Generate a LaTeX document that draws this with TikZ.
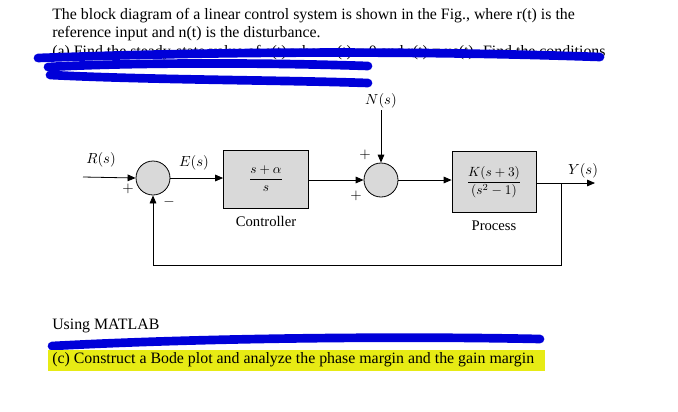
\documentclass[tikz,border=0pt]{standalone}
\usepackage{fontspec}
\setmainfont{Liberation Serif}
\usetikzlibrary{arrows.meta}
\begin{document}
\begin{tikzpicture}[x=0.75pt,y=-0.75pt,
  sig/.style={-{Triangle[length=6pt,width=5pt]},line width=0.6pt},
  sumc/.style={circle,draw,line width=0.6pt,fill=gray!30,minimum size=25.5pt,inner sep=0},
  blk/.style={draw,line width=0.6pt,fill=gray!30,inner sep=0},
  lbl/.style={font=\fontsize{10.5}{12}\selectfont},
  scrib/.style={draw=blue!85!black,line width=6.5pt,line cap=round},
  txt/.style={anchor=west,font=\fontsize{11.9}{14}\selectfont,inner sep=0}]
\useasboundingbox (0,0) rectangle (678,411);
\node[txt] (t1) at (52,16) {The block diagram of a linear control system is shown in the Fig., where r(t) is the};
\node[txt] (t2) at (52,34) {reference input and n(t) is the disturbance.};
\node[txt] (t3) at (52,53) {(a) Find the steady-state value of e(t) when n(t) = 0 and r(t) = us(t). Find the conditions};
\draw[scrib] (38,58) .. controls (200,52) and (400,50) .. (600,57);
\draw[scrib] (48,67) .. controls (120,63) and (250,62) .. (368,66);
\draw[scrib] (50,75) .. controls (150,80) and (280,80) .. (368,83);
% diagram
\node[sumc] (s1) at (153,178) {};
\node[sumc] (s2) at (381,180) {};
\node[blk,minimum width=63.75pt,minimum height=43.5pt] (c) at (266,179) {$\displaystyle\frac{s+\alpha}{s}$};
\node[blk,minimum width=63pt,minimum height=45.75pt] (p) at (494,182) {$\displaystyle\frac{K(s+3)}{(s^2-1)}$};
\coordinate (rin) at (83,177);
\coordinate (nin) at (381,110);
\coordinate (yout) at (595,183);
\coordinate (br) at (561,183);
\draw[sig] (rin) -- (s1.west);
\draw[sig] (s1.east) -- (c.west |- s1.east);
\draw[sig] (c.east |- s2.west) -- (s2.west);
\draw[sig] (nin) -- (s2.north);
\draw[sig] (s2.east) -- (p.west |- s2.east);
\draw[sig] (p.east |- yout) -- (yout);
\draw[sig] (br) -- (561,265) -- (153,265) -- (s1.south);
\node[lbl] (rl) at (101,160) {$R(s)$};
\node[lbl] (el) at (194,163) {$E(s)$};
\node[lbl] (nl) at (381,101) {$N(s)$};
\node[lbl] (yl) at (583,171) {$Y(s)$};
\node[lbl] (p1) at (128,189) {$+$};
\node[lbl] (m1) at (169,202) {$-$};
\node[lbl] (p2) at (365,155) {$+$};
\node[lbl] (p3) at (356,196) {$+$};
\node[font=\fontsize{11}{13}\selectfont] (cl) at (266,221) {Controller};
\node[font=\fontsize{11}{13}\selectfont] (pl) at (494,226) {Process};
% bottom text
\node[txt] (u) at (52,326) {Using MATLAB};
\draw[scrib] (52,346) .. controls (200,338) and (400,336) .. (540,339);
\fill[yellow!90!green!95!white] (48,350) rectangle (545,371);
\node[txt] (hc) at (52,360) {(c) Construct a Bode plot and analyze the phase margin and the gain margin};
\end{tikzpicture}
\end{document}
